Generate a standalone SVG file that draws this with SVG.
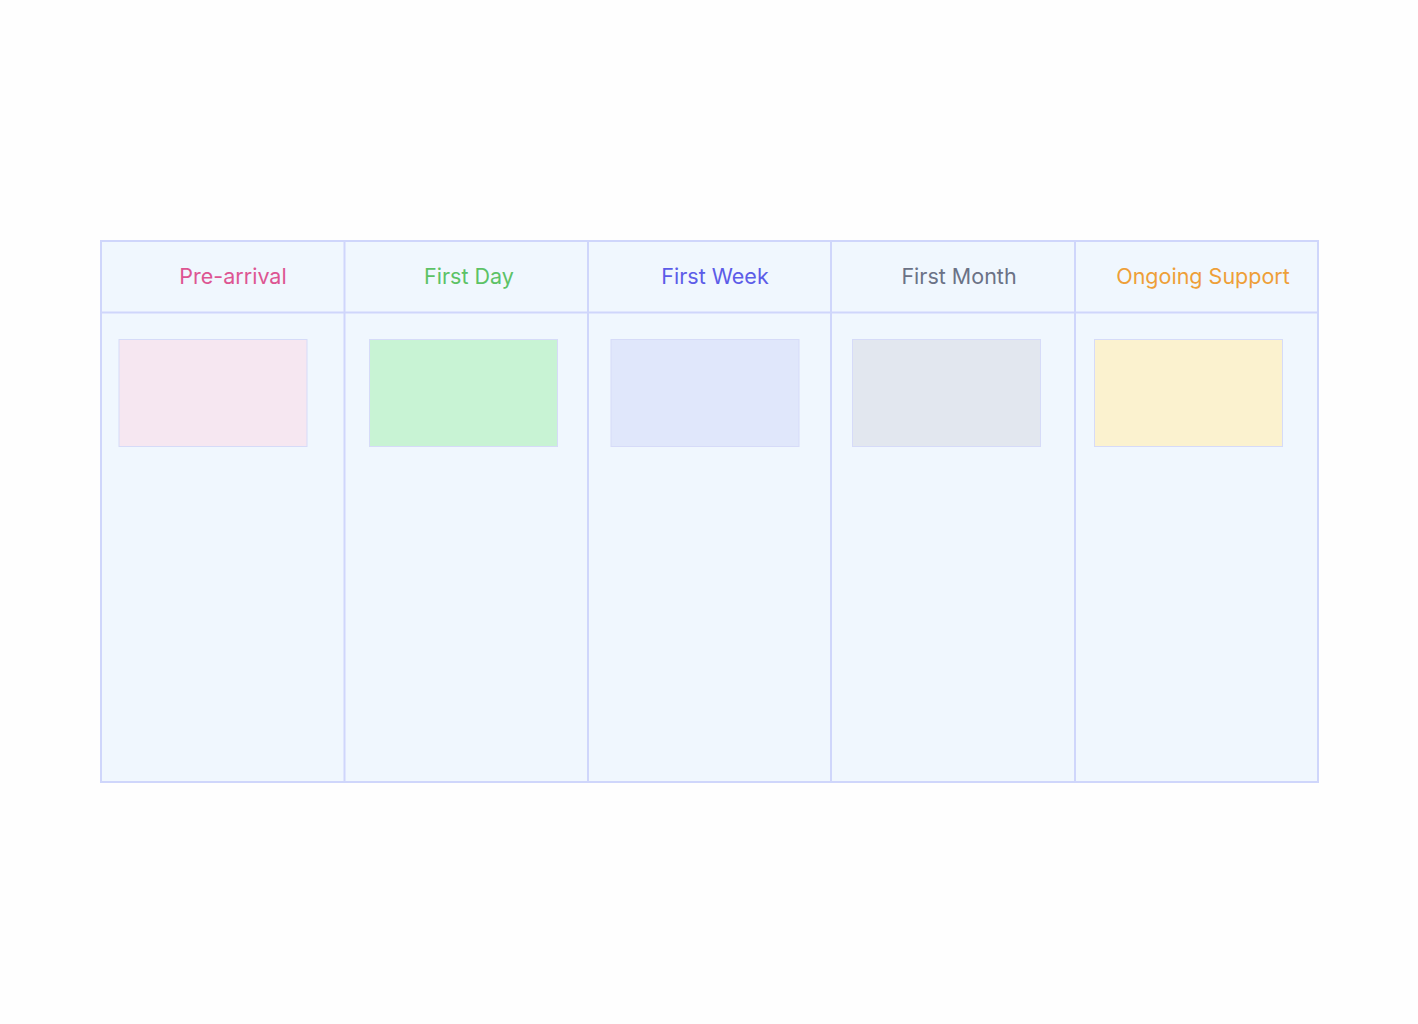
<svg xmlns="http://www.w3.org/2000/svg" width="1418" height="1024" viewBox="0 0 1418 1024">
<style>
.grid{fill:none;stroke:#cfd6fb;stroke-width:2}
.card{stroke:#d6dbf8;stroke-width:1}
.lbl{font-family:Inter,"Liberation Sans",sans-serif;font-size:21.5px;text-anchor:middle}
</style>
<rect x="0" y="0" width="1418" height="1024" fill="#fefefe"/>
<g id="table">
<rect x="101" y="241" width="1217" height="541" fill="#f0f7fe"/>
<rect class="grid" x="101" y="241" width="1217" height="541"/>
<line class="grid" x1="101" y1="312.5" x2="1318" y2="312.5"/>
<line class="grid" x1="344.5" y1="241" x2="344.5" y2="782"/>
<line class="grid" x1="588" y1="241" x2="588" y2="782"/>
<line class="grid" x1="831" y1="241" x2="831" y2="782"/>
<line class="grid" x1="1075" y1="241" x2="1075" y2="782"/>
</g>
<g id="lane-pre-arrival">
<text class="lbl" x="233" y="284" fill="#dd5592">Pre-arrival</text>
<rect class="card" x="119" y="339.5" width="188" height="107" fill="#f6e7f1"/>
</g>
<g id="lane-first-day">
<text class="lbl" x="469" y="284" fill="#5cc266">First Day</text>
<rect class="card" x="369.5" y="339.5" width="188" height="107" fill="#c8f3d4"/>
</g>
<g id="lane-first-week">
<text class="lbl" x="715" y="284" fill="#5c5ce8">First Week</text>
<rect class="card" x="611" y="339.5" width="188" height="107" fill="#e0e7fb"/>
</g>
<g id="lane-first-month">
<text class="lbl" x="959" y="284" fill="#6b7286">First Month</text>
<rect class="card" x="852.5" y="339.5" width="188" height="107" fill="#e2e7ef"/>
</g>
<g id="lane-ongoing-support">
<text class="lbl" x="1203" y="284" fill="#ee9f38">Ongoing Support</text>
<rect class="card" x="1094.5" y="339.5" width="188" height="107" fill="#fbf2cf"/>
</g>
<g id="connectors"/>
</svg>
